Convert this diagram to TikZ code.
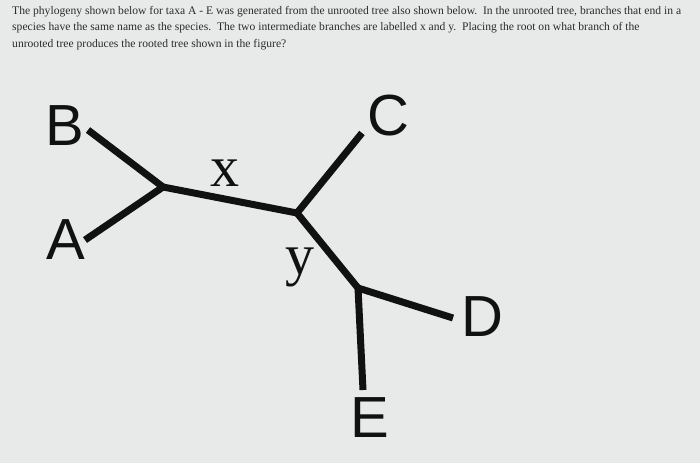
\documentclass[tikz,border=0pt]{standalone}
\usepackage{fontspec}
\setmainfont{Liberation Serif}
\newfontfamily\labfont{Liberation Sans}
\definecolor{bg}{HTML}{E8EAEA}
\definecolor{ink}{HTML}{111111}
\definecolor{txt}{HTML}{2B2B2B}
\tikzset{
  x=1pt, y=-1pt,
  branch/.style={draw=ink, line width=7pt, line cap=butt, line join=miter},
  taxon/.style={inner sep=0pt, text=ink, font=\labfont\fontsize{58}{60}\selectfont},
  brlab/.style={inner sep=0pt, text=ink, font=\fontsize{58}{60}\selectfont},
  para/.style={inner sep=0pt, anchor=base west, text=txt, font=\fontsize{11.6}{13}\selectfont}
}
\begin{document}
\begin{tikzpicture}
\fill[bg] (0,0) rectangle (700,463);
\useasboundingbox (0,0) rectangle (700,463);
% question text
\node[para] (l1) at (12,14) {The phylogeny shown below for taxa A - E was generated from the unrooted tree also shown below.\ \ In the unrooted tree, branches that end in a};
\node[para] (l2) at (12,30.5) {species have the same name as the species.\ \ The two intermediate branches are labelled x and y.\ \ Placing the root on what branch of the};
\node[para] (l3) at (12,47) {unrooted tree produces the rooted tree shown in the figure?};
% tree points
\coordinate (n1) at (163,187);
\coordinate (n2) at (297,213);
\coordinate (n3) at (358,288);
\coordinate (eB) at (88,130);
\coordinate (eA) at (85,240);
\coordinate (eC) at (362,133);
\coordinate (eD) at (453,318);
\coordinate (eE) at (363,390);
% branches
\draw[branch] (eB) -- (n1) -- (eA);
\draw[branch] (n1) -- (n2);
\draw[branch] (eC) -- (n2) -- (n3);
\draw[branch] (eD) -- (n3) -- (eE);
% labels
\node[taxon] (B) at (65,126) {B};
\node[taxon] (A) at (66,240) {A};
\node[taxon] (C) at (388,116) {C};
\node[taxon] (D) at (482,317) {D};
\node[taxon] (E) at (370,418) {E};
\node[brlab] (x) at (225,173.5) {x};
\node[brlab] (y) at (300,267) {y};
\end{tikzpicture}
\end{document}
